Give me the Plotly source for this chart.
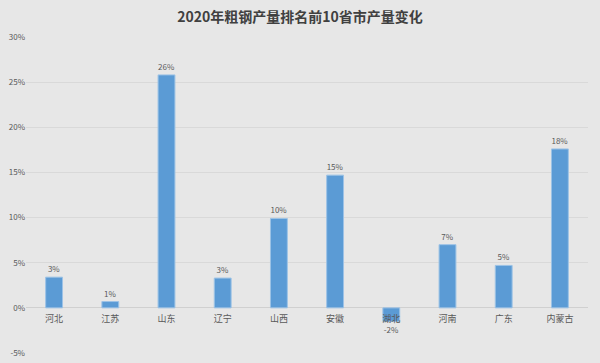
import plotly.graph_objects as go

categories = ["河北", "江苏", "山东", "辽宁", "山西", "安徽", "湖北", "河南", "广东", "内蒙古"]
values = [3.4, 0.7, 25.8, 3.3, 9.9, 14.7, -1.5, 7.0, 4.7, 17.6]
labels = ["3%", "1%", "26%", "3%", "10%", "15%", "-2%", "7%", "5%", "18%"]
tick_vals = [-5, 0, 5, 10, 15, 20, 25, 30]
tick_text = ["-5%", "0%", "5%", "10%", "15%", "20%", "25%", "30%"]

ymin, ymax = -5, 30
font_family = "Noto Sans CJK SC, Noto Sans, sans-serif"

fig = go.Figure(go.Bar(
    x=categories, y=values, text=labels, textposition="outside",
    textfont=dict(size=8, color="#595959", family=font_family),
    marker=dict(color="#5B9BD5", line=dict(color="#9DC3E6", width=1)),
    width=0.3, cliponaxis=False,
))

fig.update_layout(
    width=600, height=363,
    margin=dict(l=26, r=12, t=37, b=10),
    paper_bgcolor="#E7E7E7", plot_bgcolor="#E7E7E7",
    title=dict(text="<b>2020年粗钢产量排名前10省市产量变化</b>", x=0.5, xanchor="center",
               y=0.953, yanchor="middle",
               font=dict(size=14, color="#404040", family=font_family)),
    showlegend=False,
    font=dict(family=font_family),
)
fig.update_yaxes(range=[ymin, ymax], tickvals=tick_vals, ticktext=tick_text,
                 showgrid=True, gridcolor="#D9D9D9", gridwidth=1, zeroline=True,
                 zerolinecolor="#D0D0D0", zerolinewidth=1, automargin=False,
                 tickfont=dict(size=8, color="#595959"), ticks="", showline=False)
fig.update_xaxes(anchor="free", position=(0 - ymin) / (ymax - ymin), automargin=False,
                 showgrid=False, showline=False, ticks="", ticklabelstandoff=4,
                 tickfont=dict(size=9, color="#595959"))

fig.write_html("out.html", config={"displayModeBar": False},
               post_script="document.body.style.margin='0';document.body.style.background='#E7E7E7';")
